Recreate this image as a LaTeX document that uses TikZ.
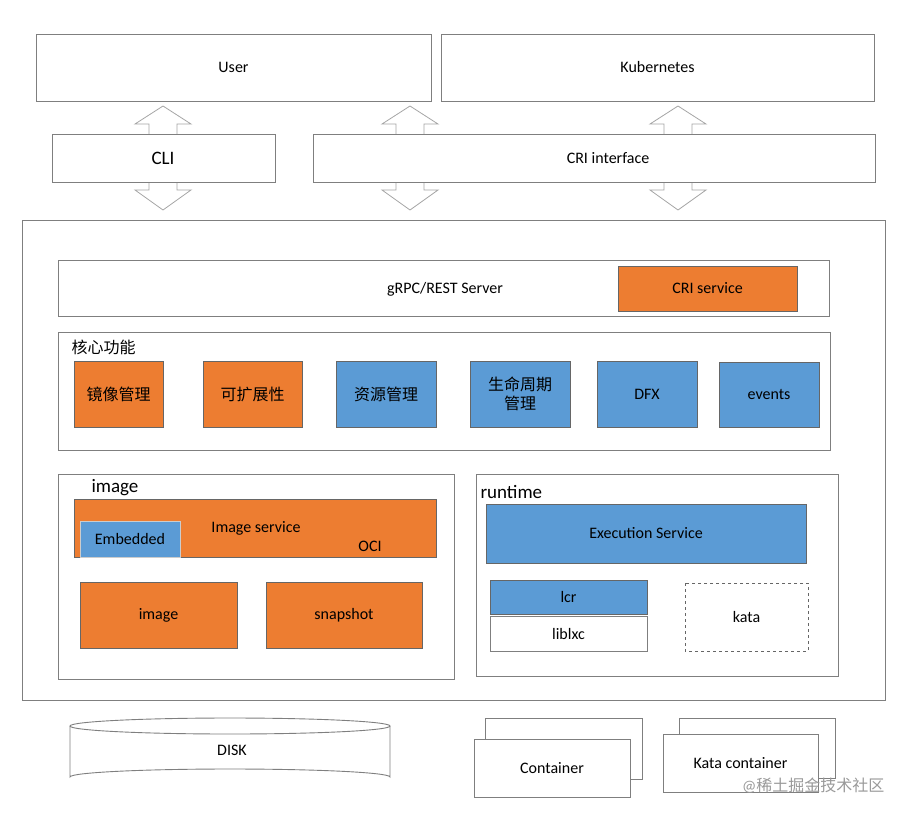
\documentclass[tikz,border=0pt]{standalone}
\usepackage{fontspec}
\setmainfont{Carlito}
\newfontfamily\cjk{Noto Sans CJK SC}
\definecolor{org}{HTML}{ED7D31}
\definecolor{blu}{HTML}{5B9BD5}
\definecolor{bd}{HTML}{7F7F7F}
\begin{document}
\begin{tikzpicture}[x=1pt,y=-1pt,
 box/.style={draw=bd,line width=0.9pt,fill=white},
 ob/.style={draw=bd!80!black,line width=0.9pt,fill=org},
 bb/.style={draw=bd!80!black,line width=0.9pt,fill=blu},
 txt/.style={font=\fontsize{16}{19}\selectfont},
 big/.style={font=\fontsize{19}{22}\selectfont},
 arr/.style={draw=bd!70,line width=0.8pt,fill=white}]
\useasboundingbox (0,0) rectangle (909,819);
\foreach \ax in {163,410,678}{
 \draw[arr] (\ax,106) -- (\ax+28,124) -- (\ax+14,124) -- (\ax+14,190) -- (\ax+28,190) -- (\ax,210) -- (\ax-28,190) -- (\ax-14,190) -- (\ax-14,124) -- (\ax-28,124) -- cycle;
}
\draw[box] (36,34) rectangle (431,101) node[midway,txt] (user) {User};
\draw[box] (441,34) rectangle (874,101) node[midway,txt] (k8s) {Kubernetes};
\draw[box] (52,134) rectangle (275,182);
\draw[box] (313,134) rectangle (875,182);
\foreach \ax in {163,410,678}{
 \fill[white] (\ax-13.5,134.5) rectangle (\ax+13.5,181.5);
}
\node[big] (cli) at (163,158) {CLI};
\node[txt] (cri) at (608,158) {CRI interface};
% main
\draw[box] (22,220) rectangle (885,700);
\draw[box] (58,260) rectangle (829,316);
\node[txt] (grpc) at (445,289) {gRPC/REST Server};
\draw[ob] (618,266) rectangle (797,311) node[midway,txt] (cris) {CRI service};
\draw[box] (58,332) rectangle (830,450);
\node[txt,anchor=west] (core) at (68,347) {\cjk 核心功能};
\draw[ob] (74,361) rectangle (163,427) node[midway,txt] {\cjk 镜像管理};
\draw[ob] (203,361) rectangle (302,427) node[midway,txt] {\cjk 可扩展性};
\draw[bb] (336,361) rectangle (436,427) node[midway,txt] {\cjk 资源管理};
\draw[bb] (470,361) rectangle (570,427) node[midway,txt,align=center] {\cjk 生命周期\\\cjk 管理};
\draw[bb] (597,361) rectangle (697,427) node[midway,txt] {DFX};
\draw[bb] (719,362) rectangle (819,427) node[midway,txt] {events};
% image
\draw[box] (58,474) rectangle (454,679);
\node[big,anchor=west] (imgl) at (88,488) {image};
\draw[ob] (74,499) rectangle (436,557);
\node[txt] (isvc) at (256,528) {Image service};
\node[txt] (oci) at (370,546) {OCI};
\draw[bb,draw=bd!40] (80,521) rectangle (180,557) node[midway,txt] {Embedded};
\draw[ob] (80,582) rectangle (237,648) node[midway,txt] {image};
\draw[ob] (266,582) rectangle (422,648) node[midway,txt] {snapshot};
% runtime
\draw[box] (476,474) rectangle (838,676);
\node[big,anchor=west] (rtl) at (477,492) {runtime};
\draw[bb] (486,504) rectangle (806,563) node[midway,txt] {Execution Service};
\draw[bb] (490,580) rectangle (647,614) node[midway,txt] {lcr};
\draw[box] (490,616) rectangle (647,651) node[midway,txt] {liblxc};
\draw[box,dashed,draw=bd!80!black] (685,583) rectangle (808,651) node[midway,txt] {kata};
% disk
\draw[box] (70,726) -- (70,777) arc[start angle=180,end angle=360,x radius=160,y radius=8] -- (390,726);
\draw[box] (230,726) ellipse[x radius=160,y radius=8];
\node[txt] (disk) at (232,750) {DISK};
% containers
\draw[box] (485,718) rectangle (642,779);
\draw[box] (474,739) rectangle (630,797) node[midway,txt] (ct) {Container};
\draw[box] (679,718) rectangle (835,778);
\draw[box] (663,734) rectangle (818,792) node[midway,txt] (kc) {Kata container};
\node[font=\fontsize{16}{19}\selectfont,text=gray!80,anchor=east] (wm) at (888,786) {@\cjk 稀土掘金技术社区};
\end{tikzpicture}
\end{document}
